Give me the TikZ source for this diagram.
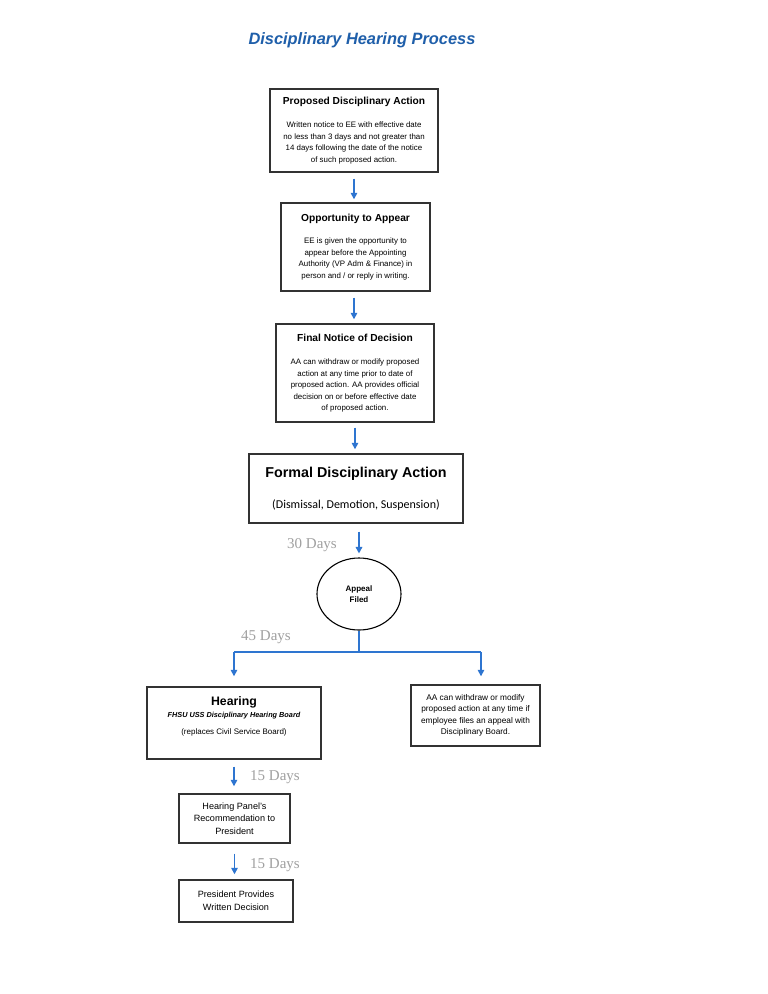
\documentclass[tikz,border=0pt]{standalone}
\usepackage{fontspec}
\setmainfont{Liberation Sans}
\newfontfamily\serifdays{Liberation Serif}
\newfontfamily\carl{Carlito}
\usetikzlibrary{arrows.meta,shapes.geometric}
\definecolor{titleblue}{RGB}{31,95,170}
\definecolor{arrowblue}{RGB}{46,117,208}
\definecolor{boxgray}{RGB}{50,50,50}
\definecolor{daygray}{RGB}{160,160,160}
\begin{document}
\begin{tikzpicture}[x=1pt,y=-1pt,
 box/.style={draw=boxgray,line width=1.4pt,inner sep=0pt,align=center,font=\fontsize{7.9}{11.5}\selectfont},
 arr/.style={draw=arrowblue,line width=1.5pt,-{Triangle[length=6.5pt,width=6.5pt]}},
 link/.style={draw=arrowblue,line width=1.3pt},
 days/.style={font=\serifdays\fontsize{15}{18}\selectfont,text=daygray,inner sep=0pt},
]
\useasboundingbox[fill=white] (0,0) rectangle (768,994);

\node[font=\bfseries\itshape\fontsize{16.4}{20}\selectfont, text=titleblue] (title) at (362,40) {Disciplinary Hearing Process};

\node[box,minimum width=168pt,minimum height=83pt] (b1) at (354,130.5)
 {{\fontsize{10.2}{12}\selectfont\bfseries Proposed Disciplinary Action}\\[12pt]
  Written notice to EE with effective date\\
  no less than 3 days and not greater than\\
  14 days following the date of the notice\\
  of such proposed action.};

\node[box,minimum width=149pt,minimum height=88pt] (b2) at (355.5,247)
 {{\fontsize{10.2}{12}\selectfont\bfseries Opportunity to Appear}\\[11pt]
  EE is given the opportunity to\\
  appear before the Appointing\\
  Authority (VP Adm \& Finance) in\\
  person and / or reply in writing.};

\node[box,minimum width=158pt,minimum height=98pt] (b3) at (355,373)
 {{\fontsize{10.2}{12}\selectfont\bfseries Final Notice of Decision}\\[12pt]
  AA can withdraw or modify proposed\\
  action at any time prior to date of\\
  proposed action. AA provides official\\
  decision on or before effective date\\
  of proposed action.};

\node[box,minimum width=214pt,minimum height=69pt] (b4) at (356,488.5)
 {{\fontsize{14.3}{17}\selectfont\bfseries Formal Disciplinary Action}\\[18pt]
  {\carl\fontsize{12}{14}\selectfont (Dismissal, Demotion, Suspension)}};

\node[ellipse,draw=black,line width=1.1pt,minimum width=84pt,minimum height=72pt,inner sep=0pt,align=center,font=\bfseries\fontsize{8}{11}\selectfont] (ell) at (359,594) {Appeal\\Filed};

\node[box,minimum width=174pt,minimum height=72pt] (hear) at (234,723)
 {{\fontsize{12.3}{14}\selectfont\bfseries Hearing}\\
  {\fontsize{7.3}{10}\selectfont\bfseries\itshape FHSU USS Disciplinary Hearing Board}\\[6pt]
  {\fontsize{8}{10}\selectfont (replaces Civil Service Board)}\\[3pt]\mbox{}};

\node[box,minimum width=129pt,minimum height=61pt,font=\fontsize{8.3}{11.5}\selectfont] (rb) at (475.5,715.5)
 {AA can withdraw or modify\\
  proposed action at any time if\\
  employee files an appeal with\\
  Disciplinary Board.};

\node[box,minimum width=111pt,minimum height=49pt,font=\fontsize{9.1}{12.7}\selectfont] (panel) at (234.5,818.5)
 {Hearing Panel's\\Recommendation to\\President};

\node[box,minimum width=114pt,minimum height=42pt,font=\fontsize{9.1}{12.7}\selectfont] (pres) at (236,901)
 {President Provides\\Written Decision};

\draw[arr,shorten <=6pt,shorten >=3pt] (b1.south) -- (b1.south |- b2.north);
\draw[arr,shorten <=6pt,shorten >=4pt] (b2.south -| b1.south) -- (b1.south |- b3.north);
\draw[arr,shorten <=5pt,shorten >=4pt] (b3.south) -- (b3.south |- b4.north);
\draw[arr,shorten <=8pt,shorten >=4pt] (ell.north |- b4.south) -- (ell.north);

\coordinate (br) at (359,652);
\coordinate (brL) at (234,652);
\coordinate (brR) at (481,652);
\draw[link] (ell.south) -- (br);
\draw[link] (brL) -- (brR);
\draw[arr,shorten >=10pt] (brL) -- (hear.north);
\draw[arr,shorten >=8pt] (brR) -- (brR |- rb.north);

\draw[arr,shorten <=7pt,shorten >=7pt] (hear.south) -- (hear.south |- panel.north);
\draw[arr,shorten <=10pt,shorten >=5pt] (panel.south) -- (panel.south |- pres.north);

\node[days] (d30) at (312,545) {30 Days};
\node[days] (d45) at (266,637) {45 Days};
\node[days] (d15a) at (275,777) {15 Days};
\node[days] (d15b) at (275,865) {15 Days};
\end{tikzpicture}
\end{document}
